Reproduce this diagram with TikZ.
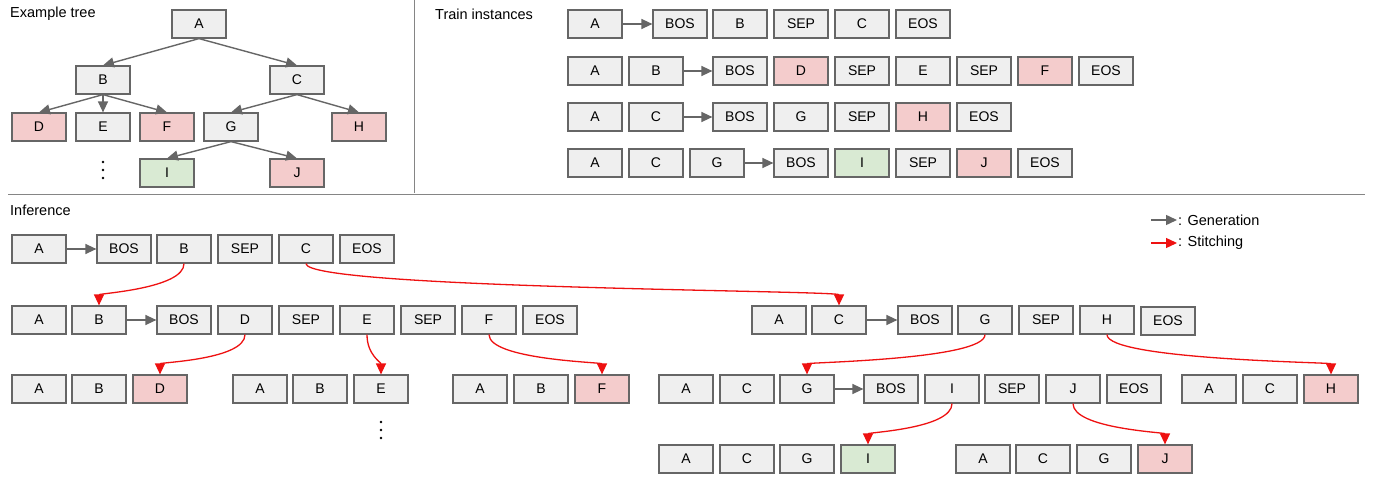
\documentclass[tikz,border=0pt]{standalone}
\usepackage{fontspec}
\setmainfont{Liberation Sans}
\usetikzlibrary{arrows.meta}
\definecolor{bfill}{HTML}{EFEFEF}
\definecolor{bline}{HTML}{666666}
\definecolor{rfill}{HTML}{F4CCCC}
\definecolor{gfill}{HTML}{D9EAD3}
\definecolor{stitch}{HTML}{EE1111}
\tikzset{
 tok/.style={draw=bline,fill=bfill,line width=1.2pt,minimum width=54pt,minimum height=28pt,inner sep=0pt,font=\fontsize{14}{16}\selectfont},
 red/.style={tok,fill=rfill},
 grn/.style={tok,fill=gfill},
 gen/.style={draw=bline,line width=1.4pt,-{Triangle[length=11pt,width=10pt]}},
 sti/.style={draw=stitch,line width=1.3pt,-{Triangle[length=11pt,width=10pt]}},
 lab/.style={anchor=west,inner sep=0pt,font=\fontsize{14.5}{16}\selectfont},
 sep/.style={draw=bline!80,line width=1pt},
 dot/.style={fill=black,circle,inner sep=0pt,minimum size=2.8pt}
}
\begin{document}
\begin{tikzpicture}[x=1pt,y=-1pt]
\useasboundingbox (0,0) rectangle (1380,481);
% separators
\draw[sep] (414,0) -- (414,193);
\draw[sep] (8,194) -- (1365,194);
% tree
\node[lab] (lt) at (10,14) {Example tree};
\node[tok] (tA) at (199,24) {A};
\node[tok] (tB) at (103,80) {B};
\node[tok] (tC) at (297,80) {C};
\node[red] (tD) at (39,127) {D};
\node[tok] (tE) at (103,127) {E};
\node[red] (tF) at (167,127) {F};
\node[tok] (tG) at (231,127) {G};
\node[red] (tH) at (359,127) {H};
\node[grn] (tI) at (167,173) {I};
\node[red] (tJ) at (297,173) {J};
\foreach \y [count=\i] in {162,170,178} \node[dot] (td\i) at (103,\y) {};
\foreach \p/\c in {A/B,A/C,B/D,B/E,B/F,C/G,C/H,G/I,G/J} \draw[gen] (t\p.south) -- (t\c.north);
% train
\node[lab] (ltr) at (435,14) {Train instances};
\foreach \n/\x/\s in {A/595/tok,BOS/680/tok,B/740/tok,SEP/801/tok,C/862/tok,EOS/923/tok}
  \node[\s] (r1\n) at (\x,24) {\n};
\draw[gen] (r1A) -- (r1BOS);
\foreach \n/\t/\x/\s in {A/A/595/tok,B/B/656/tok,BOS/BOS/740/tok,D/D/801/red,S1/SEP/862/tok,E/E/923/tok,S2/SEP/984/tok,F/F/1045/red,EOS/EOS/1106/tok}
  \node[\s] (r2\n) at (\x,71) {\t};
\draw[gen] (r2B) -- (r2BOS);
\foreach \n/\t/\x/\s in {A/A/595/tok,C/C/656/tok,BOS/BOS/740/tok,G/G/801/tok,S1/SEP/862/tok,H/H/923/red,EOS/EOS/984/tok}
  \node[\s] (r3\n) at (\x,117) {\t};
\draw[gen] (r3C) -- (r3BOS);
\foreach \n/\t/\x/\s in {A/A/595/tok,C/C/656/tok,G/G/717/tok,BOS/BOS/801/tok,I/I/862/grn,S1/SEP/923/tok,J/J/984/red,EOS/EOS/1045/tok}
  \node[\s] (r4\n) at (\x,163) {\t};
\draw[gen] (r4G) -- (r4BOS);
% inference
\node[lab] (li) at (10,210) {Inference};
\coordinate (lg1) at (1151,220); \coordinate (lg2) at (1177,220);
\draw[gen] (lg1) -- (lg2);
\node[lab] (lgt) at (1178,220) {: Generation};
\coordinate (ls1) at (1151,243); \coordinate (ls2) at (1177,243);
\draw[sti] (ls1) -- (ls2);
\node[lab] (lst) at (1178,243) {: Stitching};
% row 1
\foreach \n/\t/\x/\s in {A/A/39/tok,BOS/BOS/124/tok,B/B/184/tok,S1/SEP/245/tok,C/C/306/tok,EOS/EOS/367/tok}
  \node[\s] (i1\n) at (\x,249) {\t};
\draw[gen] (i1A) -- (i1BOS);
% row 2 left
\foreach \n/\t/\x/\s in {A/A/39/tok,B/B/99/tok,BOS/BOS/184/tok,D/D/245/tok,S1/SEP/306/tok,E/E/367/tok,S2/SEP/428/tok,F/F/489/tok,EOS/EOS/550/tok}
  \node[\s] (i2\n) at (\x,320) {\t};
\draw[gen] (i2B) -- (i2BOS);
% row 2 right
\foreach \n/\t/\x/\s in {A/A/779/tok,C/C/839/tok,BOS/BOS/925/tok,G/G/985/tok,S1/SEP/1046/tok,H/H/1107/tok}
  \node[\s] (j2\n) at (\x,320) {\t};
\node[tok] (j2EOS) at (1168,321) {EOS};
\draw[gen] (j2C) -- (j2BOS);
% row 3
\foreach \n/\t/\x/\s in {A/A/39/tok,B/B/99/tok,D/D/160/red}
  \node[\s] (k1\n) at (\x,389) {\t};
\foreach \n/\t/\x/\s in {A/A/260/tok,B/B/320/tok,E/E/381/tok}
  \node[\s] (k2\n) at (\x,389) {\t};
\foreach \n/\t/\x/\s in {A/A/480/tok,B/B/541/tok,F/F/602/red}
  \node[\s] (k3\n) at (\x,389) {\t};
\foreach \n/\t/\x/\s in {A/A/686/tok,C/C/747/tok,G/G/807/tok,BOS/BOS/891/tok,I/I/952/tok,S1/SEP/1012/tok,J/J/1073/tok,EOS/EOS/1134/tok}
  \node[\s] (k4\n) at (\x,389) {\t};
\draw[gen] (k4G) -- (k4BOS);
\foreach \n/\t/\x/\s in {A/A/1209/tok,C/C/1270/tok,H/H/1331/red}
  \node[\s] (k5\n) at (\x,389) {\t};
\foreach \y [count=\i] in {422,430,438} \node[dot] (kd\i) at (381,\y) {};
% row 4
\foreach \n/\t/\x/\s in {A/A/686/tok,C/C/747/tok,G/G/807/tok,I/I/868/grn}
  \node[\s] (m1\n) at (\x,459) {\t};
\foreach \n/\t/\x/\s in {A/A/983/tok,C/C/1043/tok,G/G/1104/tok,J/J/1165/red}
  \node[\s] (m2\n) at (\x,459) {\t};
% stitching
\draw[sti] (i1B.south) .. controls +(0,25) and +(0,-12) .. (i2B.north);
\draw[sti] (i1C.south) .. controls +(0,25) and +(0,-15) .. (j2C.north);
\draw[sti] (i2D.south) .. controls +(0,25) and +(0,-12) .. (k1D.north);
\draw[sti] (i2E.south) .. controls +(0,20) and +(0,-12) .. (k2E.north);
\draw[sti] (i2F.south) .. controls +(0,25) and +(0,-12) .. (k3F.north);
\draw[sti] (j2G.south) .. controls +(0,25) and +(0,-12) .. (k4G.north);
\draw[sti] (j2H.south) .. controls +(0,25) and +(0,-12) .. (k5H.north);
\draw[sti] (k4I.south) .. controls +(0,25) and +(0,-12) .. (m1I.north);
\draw[sti] (k4J.south) .. controls +(0,25) and +(0,-12) .. (m2J.north);
\end{tikzpicture}
\end{document}
